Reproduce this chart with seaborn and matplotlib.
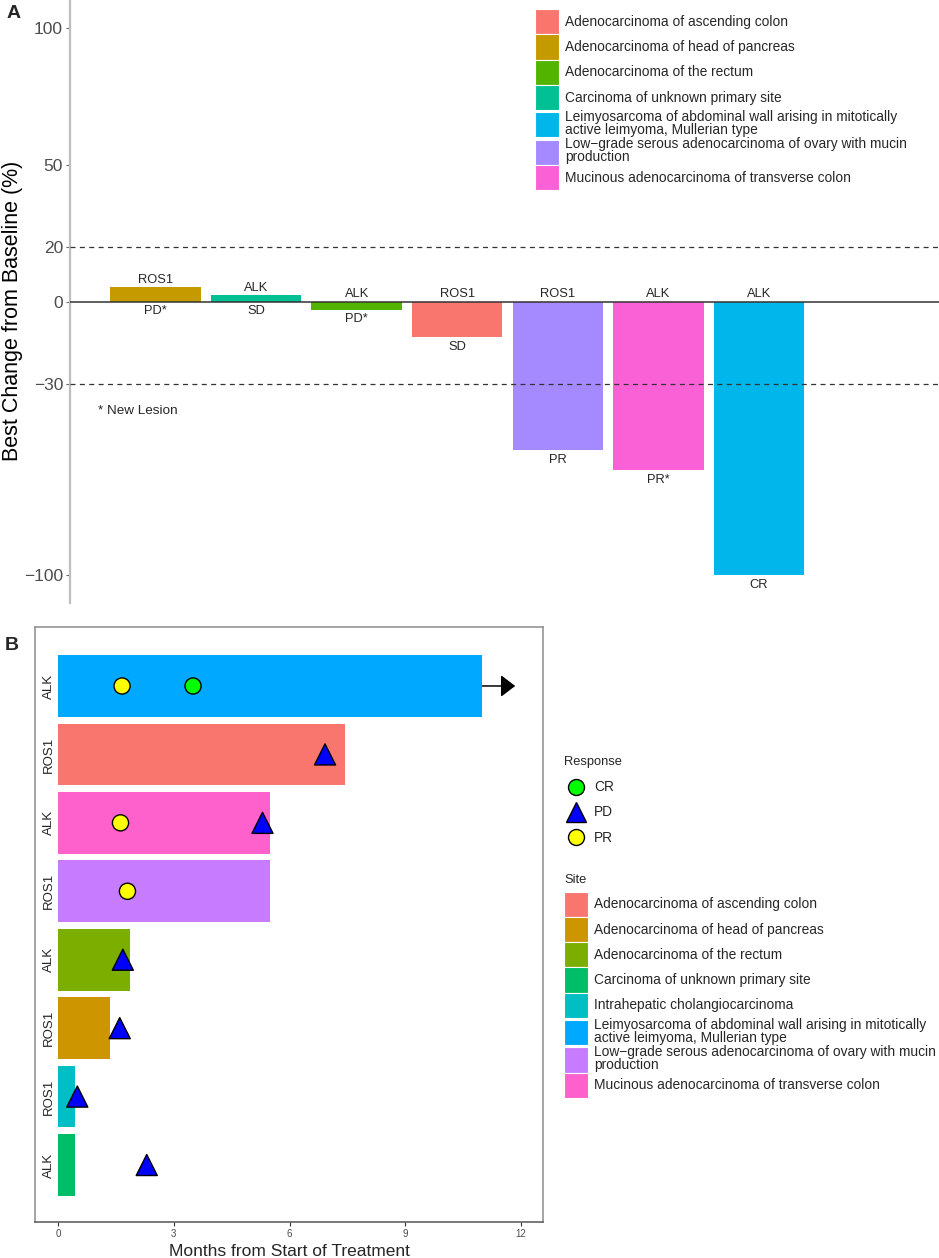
import numpy as np
import pandas as pd
import matplotlib
matplotlib.use("Agg")
import matplotlib.pyplot as plt
from matplotlib.patches import Patch
from matplotlib.lines import Line2D
from matplotlib.legend_handler import HandlerLine2D
import seaborn as sns

# ---------------- data ----------------
ASC = "Adenocarcinoma of ascending colon"
PAN = "Adenocarcinoma of head of pancreas"
REC = "Adenocarcinoma of the rectum"
UNK = "Carcinoma of unknown primary site"
IHC = "Intrahepatic cholangiocarcinoma"
LEI = "Leimyosarcoma of abdominal wall arising in mitotically\nactive leimyoma, Mullerian type"
LOW = "Low\u2212grade serous adenocarcinoma of ovary with mucin\nproduction"
MUC = "Mucinous adenocarcinoma of transverse colon"

# Panel A (waterfall)
a_sites = [PAN, UNK, REC, ASC, LOW, MUC, LEI]
a_change = [5.2, 2.4, -3.0, -13.0, -54.3, -61.6, -100.0]
a_gene = ["ROS1", "ALK", "ALK", "ROS1", "ROS1", "ALK", "ALK"]
a_response = ["PD*", "SD", "PD*", "SD", "PR", "PR*", "CR"]
a_legend_order = [ASC, PAN, REC, UNK, LEI, LOW, MUC]
a_colors = {ASC: "#F8766D", PAN: "#C49A00", REC: "#53B400", UNK: "#00C094",
            LEI: "#00B6EB", LOW: "#A58AFF", MUC: "#FB61D7"}
a_yticks = [100, 50, 20, 0, -30, -100]
a_thresholds = [20, -30]

# Panel B (swimmer)
b_sites = [LEI, ASC, MUC, LOW, REC, PAN, IHC, UNK]
b_gene = ["ALK", "ROS1", "ALK", "ROS1", "ALK", "ROS1", "ROS1", "ALK"]
b_months = [11.0, 7.45, 5.5, 5.5, 1.87, 1.36, 0.44, 0.44]
b_arrow_end = 11.85
b_legend_order = [ASC, PAN, REC, UNK, IHC, LEI, LOW, MUC]
b_colors = {ASC: "#F8766D", PAN: "#CD9600", REC: "#7CAE00", UNK: "#00BE67",
            IHC: "#00BFC4", LEI: "#00A9FF", LOW: "#C77CFF", MUC: "#FF61CC"}
ev_row = [0, 0, 1, 2, 2, 3, 4, 5, 6, 7]
ev_time = [1.66, 3.5, 6.92, 1.62, 5.3, 1.8, 1.68, 1.6, 0.5, 2.3]
ev_resp = ["PR", "CR", "PD", "PR", "PD", "PR", "PD", "PD", "PD", "PD"]
resp_levels = ["CR", "PD", "PR"]
resp_colors = {"CR": "#00FF00", "PD": "#0000FF", "PR": "#FFFF00"}
resp_markers = {"CR": "o", "PD": "^", "PR": "o"}
resp_sizes = {"CR": 135, "PD": 230, "PR": 135}
b_xticks = [0, 3, 6, 9, 12]

# ---------------- style ----------------
sns.set_theme(style="white")
plt.rcParams["font.family"] = ["Liberation Sans", "DejaVu Sans"]

W, H = 939, 1258
fig = plt.figure(figsize=(W / 100, H / 100), dpi=100)

LEG_KW = dict(frameon=False, fontsize=9.9, handlelength=1.75, handleheight=2.45,
              labelspacing=0, handletextpad=0.45, borderpad=0, borderaxespad=0)


class CenteredLineHandler(HandlerLine2D):
    def create_artists(self, legend, orig_handle, xdescent, ydescent, width,
                       height, fontsize, trans):
        arts = super().create_artists(legend, orig_handle, xdescent, ydescent,
                                      width, height, fontsize, trans)
        for a in arts:
            a.set_ydata(np.full_like(np.asarray(a.get_xdata(), float),
                                     height / 2 - ydescent))
        return arts


# ---------------- panel A ----------------
axA = fig.add_axes([70 / W, 1 - 603 / H, 869 / W, 603 / H])
dfA = pd.DataFrame({"bar": [f"a{i}" for i in range(len(a_change))],
                    "change": a_change, "site": a_sites})
sns.barplot(data=dfA, x="bar", y="change", hue="site", palette=a_colors,
            dodge=False, width=0.9, saturation=1, legend=False, ax=axA,
            linewidth=0)
axA.set_xlim(-0.85, 7.79)
axA.set_ylim(-110.2, 110.2)
for t in a_thresholds:
    axA.axhline(t, color="#333333", lw=0.9, ls=(0, (4, 3.5)), zorder=3)
axA.axhline(0, color="#333333", lw=1.1, zorder=3)
for s in ["top", "right", "bottom"]:
    axA.spines[s].set_visible(False)
axA.spines["left"].set_color("#BEBEBE")
axA.spines["left"].set_linewidth(1.6)
axA.set_xticks([])
axA.set_xlabel("")
axA.set_yticks(a_yticks)
axA.set_yticklabels([str(v).replace("-", "\u2212") for v in a_yticks])
axA.tick_params(axis="y", left=True, length=3, width=0.8, color="#666666",
                labelcolor="#4D4D4D", labelsize=12.5, pad=2)
axA.set_ylabel("Best Change from Baseline (%)", fontsize=15.5, color="black")
axA.yaxis.set_label_coords(-0.054, 0.484)

for i, (v, g, r) in enumerate(zip(a_change, a_gene, a_response)):
    axA.annotate(g, (i, max(v, 0)), xytext=(0, 1), textcoords="offset points",
                 ha="center", va="bottom", fontsize=9.3)
    axA.annotate(r, (i, min(v, 0)), xytext=(0, -2.5), textcoords="offset points",
                 ha="center", va="top", fontsize=9.3)
axA.text(-0.572, -40, "* New Lesion", ha="left", va="center", fontsize=9.7)

legA = fig.legend([Patch(facecolor=a_colors[s], edgecolor="white", lw=0.8)
                   for s in a_legend_order], a_legend_order,
                  loc="upper left", bbox_to_anchor=(535 / W, 1 - 9 / H), **LEG_KW)
for t in legA.get_texts():
    t.set_linespacing(0.9)

# ---------------- panel B ----------------
axB = fig.add_axes([35 / W, 1 - 1222 / H, 508 / W, 595 / H])
rows = [f"r{i}" for i in range(len(b_months))]
dfB = pd.DataFrame({"row": rows, "months": b_months, "site": b_sites})
sns.barplot(data=dfB, y="row", x="months", hue="site", palette=b_colors,
            orient="h", dodge=False, width=0.9, saturation=1, legend=False,
            ax=axB, linewidth=0)
dfE = pd.DataFrame({"row": [rows[i] for i in ev_row], "time": ev_time,
                    "response": ev_resp})
sns.scatterplot(data=dfE, x="time", y="row", hue="response", style="response",
                size="response", sizes=resp_sizes, palette=resp_colors,
                markers=resp_markers, hue_order=resp_levels,
                edgecolor="black", linewidth=1, legend=False, ax=axB, zorder=4)
axB.annotate("", xy=(b_arrow_end, 0), xytext=(b_months[0], 0),
             arrowprops=dict(arrowstyle="-|>,head_length=0.55,head_width=0.42",
                             color="black", lw=1.1, shrinkA=0, shrinkB=0,
                             mutation_scale=16), zorder=4)
axB.set_xlim(-0.596, 12.57)
axB.set_ylim(7.833, -0.862)
axB.set_yticks(range(len(b_gene)))
axB.set_yticklabels(b_gene, rotation=90, va="center", ha="center", fontsize=9.5)
axB.tick_params(axis="y", left=False, length=0, pad=-9.8)
axB.set_ylabel("")
axB.set_xticks(b_xticks)
axB.set_xticklabels([str(v) for v in b_xticks])
axB.tick_params(axis="x", bottom=True, length=3, width=0.8, color="#333333",
                labelsize=7, labelcolor="#4D4D4D", pad=2)
axB.set_xlabel("Months from Start of Treatment", fontsize=12.5, labelpad=3.5)
for s in axB.spines.values():
    s.set_color("#8C8C8C")
    s.set_linewidth(1.1)
axB.spines["bottom"].set_color("#555555")

resp_handles = [Line2D([], [], ls="none", marker=resp_markers[r],
                       markersize=(11.5 if r != "PD" else 14.5),
                       markerfacecolor=resp_colors[r], markeredgecolor="black",
                       markeredgewidth=1) for r in resp_levels]
legR = fig.legend(resp_handles, resp_levels, title="Response", loc="upper left",
                  bbox_to_anchor=(564 / W, 1 - 756 / H), title_fontsize=9.3,
                  alignment="left", handler_map={Line2D: CenteredLineHandler()},
                  **LEG_KW)
legR._legend_box.sep = 4.5
legS = fig.legend([Patch(facecolor=b_colors[s], edgecolor="white", lw=0.8)
                   for s in b_legend_order], b_legend_order, title="Site",
                  loc="upper left", bbox_to_anchor=(564 / W, 1 - 874 / H),
                  title_fontsize=9.3, alignment="left", **LEG_KW)
legS._legend_box.sep = 4.0
for t in legS.get_texts():
    t.set_linespacing(0.9)

fig.text(14 / W, 1 - 14 / H, "A", fontsize=14, fontweight="bold",
         ha="center", va="center")
fig.text(12 / W, 1 - 646 / H, "B", fontsize=14, fontweight="bold",
         ha="center", va="center")

fig.savefig("out.png", dpi=100)
